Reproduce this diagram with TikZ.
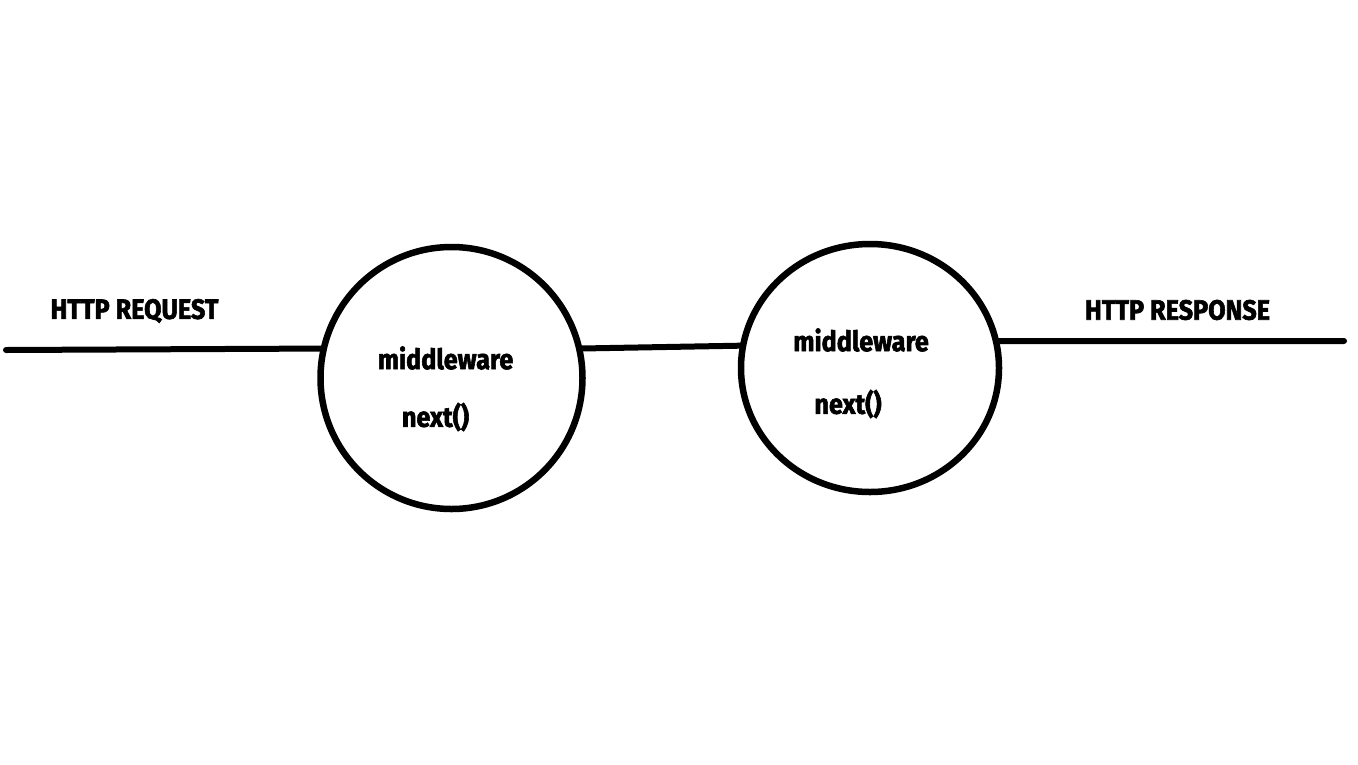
\documentclass[tikz,border=0pt]{standalone}
\usepackage{fontspec}
\setmainfont{Fira Sans}
\newfontfamily\hvfont{Fira Sans}[BoldFeatures={FakeBold=2.2}]
\usepackage{graphicx}
\usetikzlibrary{shapes.geometric}
\tikzset{
  mw/.style={draw=black, line width=6.5pt, ellipse, inner sep=0pt, outer sep=0pt},
  wire/.style={line width=6pt, line cap=round},
  lbl/.style={font=\fontsize{28}{32}\selectfont\hvfont\bfseries, inner sep=0pt, text=black},
}
\newcommand{\sq}[1]{\scalebox{0.9}[1]{#1}}
\begin{document}
\begin{tikzpicture}[x=1pt,y=-1pt]
\useasboundingbox[fill=white] (0,0) rectangle (1358,764);
\node[mw, minimum width=262pt, minimum height=262pt] (c1) at (451.5,378) {};
\node[mw, minimum width=258pt, minimum height=248pt] (c2) at (870,368) {};
\coordinate (reqstart) at (6,350);
\coordinate (resend) at (1344,341);
\draw[wire] (reqstart) -- (c1.167.7);
\draw[wire] (c1.13.7) -- (c2.170.6);
\draw[wire] (c2.12.1) -- (resend);
\node[lbl] (req) at (134.5,311) {\sq{HTTP REQUEST}};
\node[lbl] (res) at (1177.5,310) {\sq{HTTP RESPONSE}};
\node[lbl] (m1) at (445.5,358) {\sq{middleware}};
\node[lbl] (n1) at (435.5,417) {\sq{next()}};
\node[lbl] (m2) at (861,340) {\sq{middleware}};
\node[lbl] (n2) at (848,404) {\sq{next()}};
\end{tikzpicture}
\end{document}
